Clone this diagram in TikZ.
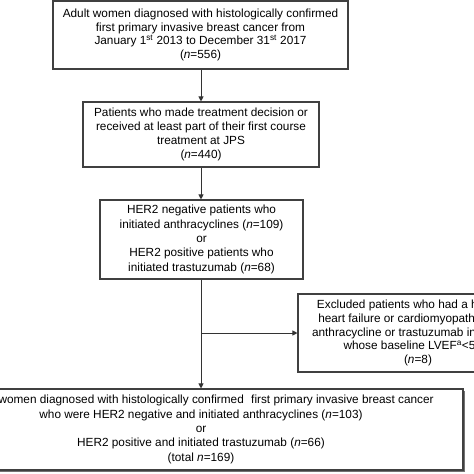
\documentclass[tikz,border=0pt]{standalone}
\usepackage{fontspec}
\setmainfont{Liberation Sans}
\usetikzlibrary{arrows.meta,shadows}
\begin{document}
\begin{tikzpicture}[x=1pt,y=-1pt,
  box/.style={draw=black!75, line width=1.1pt, fill=white, inner sep=0pt, align=center,
     font=\fontsize{11.8}{13.8}\selectfont},
  wide/.style={font=\fontsize{11.8}{14.4}\selectfont},
  conn/.style={draw=black!80, line width=1pt, -{Triangle[length=5pt,width=5pt]}}]
\useasboundingbox (0,0) rectangle (474,474);
\clip (0,0) rectangle (474,474);
\fill[white] (0,0) rectangle (474,474);

\node[box, minimum width=295pt, minimum height=68pt] (b1) at (200.5,35)
  {Adult women diagnosed with histologically confirmed\\
   first primary invasive breast cancer from\\
   January 1\textsuperscript{st} 2013 to December 31\textsuperscript{st} 2017\\
   (\textit{n}=556)};

\node[box, minimum width=236pt, minimum height=65pt] (b2) at (201,134.5)
  {Patients who made treatment decision or\\
   received at least part of their first course\\
   treatment at JPS\\
   (\textit{n}=440)};

\node[box, wide, minimum width=203pt, minimum height=79pt] (b3) at (201.5,239.5)
  {HER2 negative patients who\\
   initiated anthracyclines (\textit{n}=109)\\
   or\\
   HER2 positive patients who\\
   initiated trastuzumab (\textit{n}=68)};

\node[box, minimum width=240pt, minimum height=78pt] (ex) at (418,333)
  {Excluded patients who had a history of\\
   heart failure or cardiomyopathy before\\
   anthracycline or trastuzumab initiation or\\
   whose baseline LVEF\textsuperscript{a}<50\%\\
   (\textit{n}=8)};

\node[box, wide, minimum width=524pt, minimum height=81pt,
      drop shadow={shadow xshift=1.5pt, shadow yshift=-1.5pt, fill=black!55, opacity=1}] (b4) at (201,429.5)
  {Adult women diagnosed with histologically confirmed\hspace{0.35em} first primary invasive breast cancer\\
   who were HER2 negative and initiated anthracyclines (\textit{n}=103)\\
   or\\
   HER2 positive and initiated trastuzumab (\textit{n}=66)\\
   (total \textit{n}=169)};

\coordinate (br) at (201,333);
\draw[conn] (b1.south -| 201,0) -- (b2.north -| 201,0);
\draw[conn] (b2.south -| 201,0) -- (b3.north -| 201,0);
\draw[conn] (b3.south -| 201,0) -- (b4.north -| 201,0);
\draw[conn] (br) -- (ex.west);
\end{tikzpicture}
\end{document}
